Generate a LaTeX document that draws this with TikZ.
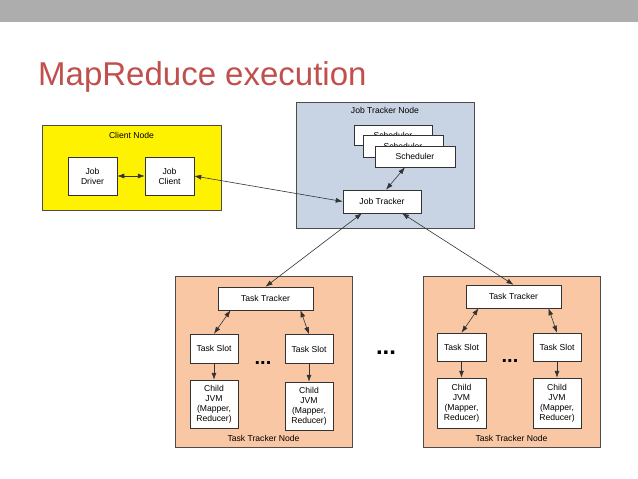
\documentclass[tikz,border=0pt]{standalone}
\usepackage{fontspec}
\setmainfont{Liberation Sans}
\usetikzlibrary{arrows.meta}
\definecolor{ttn}{HTML}{F9C7A3}
\definecolor{jtn}{HTML}{C8D4E3}
\definecolor{ttl}{HTML}{C0504D}
\begin{document}
\begin{tikzpicture}[x=1pt,y=-1pt,
  grp/.style={draw=black!70,line width=0.6pt},
  bx/.style={draw=black!80,fill=white,line width=0.5pt,font=\fontsize{8.6}{10}\selectfont,align=center,inner sep=0pt},
  lbl/.style={font=\fontsize{8.6}{10}\selectfont},
  ar/.style={-{Latex[length=7pt,width=5pt]},line width=0.6pt,draw=black!80},
  bar/.style={{Latex[length=7pt,width=5pt]}-{Latex[length=7pt,width=5pt]},line width=0.6pt,draw=black!80}]
\useasboundingbox (0,0) rectangle (638,479);
\fill[white] (0,0) rectangle (638,479);
\fill[black!32] (0,0) rectangle (638,22);
\node[anchor=base west,inner sep=0pt,text=ttl,font=\fontsize{33}{36}\selectfont] (title) at (38,85) {MapReduce execution};
% client node
\draw[grp,fill=yellow] (42,125) rectangle (221,210);
\node[lbl] (cnl) at (131.5,135) {Client Node};
\node[bx,minimum width=49pt,minimum height=38pt] (jd) at (92.5,176) {Job\\Driver};
\node[bx,minimum width=49pt,minimum height=38pt] (jc) at (169.5,176) {Job\\Client};
% job tracker node
\draw[grp,fill=jtn] (296,102) rectangle (474,228);
\node[lbl] (jtnl) at (385,110) {Job Tracker Node};
\node[bx,minimum width=78pt,minimum height=20pt] (s1) at (393,135) {Scheduler};
\node[bx,minimum width=80pt,minimum height=22pt] (s2) at (403,146) {Scheduler};
\node[bx,minimum width=80pt,minimum height=21pt] (s3) at (415,156.5) {Scheduler};
\node[bx,minimum width=78pt,minimum height=23pt] (jt) at (382,201.5) {Job Tracker};
% task tracker nodes
\draw[grp,fill=ttn] (175,276) rectangle (352,447);
\draw[grp,fill=ttn] (423,276) rectangle (600,447);
\node[lbl] (ttl1) at (263.5,438) {Task Tracker Node};
\node[lbl] (ttl2) at (511.5,438) {Task Tracker Node};
\node[bx,minimum width=95pt,minimum height=23pt] (tt1) at (265.5,298.5) {Task Tracker};
\node[bx,minimum width=95pt,minimum height=23pt] (tt2) at (513.5,296.5) {Task Tracker};
\node[bx,minimum width=48pt,minimum height=29pt] (a1) at (214,348.5) {Task Slot};
\node[bx,minimum width=48pt,minimum height=29pt] (b1) at (309,349) {Task Slot};
\node[bx,minimum width=48pt,minimum height=48pt] (a1j) at (214,404) {Child\\JVM\\(Mapper,\\Reducer)};
\node[bx,minimum width=48pt,minimum height=48pt] (b1j) at (309,406) {Child\\JVM\\(Mapper,\\Reducer)};
\node[bx,minimum width=49pt,minimum height=28pt] (a2) at (461.5,347) {Task Slot};
\node[bx,minimum width=48pt,minimum height=28pt] (b2) at (557,347) {Task Slot};
\node[bx,minimum width=49pt,minimum height=50pt] (a2j) at (461.5,403) {Child\\JVM\\(Mapper,\\Reducer)};
\node[bx,minimum width=48pt,minimum height=50pt] (b2j) at (557,403) {Child\\JVM\\(Mapper,\\Reducer)};
\node[font=\bfseries\fontsize{20}{20}\selectfont] (d1) at (263,363) {...};
\node[font=\bfseries\fontsize{20}{20}\selectfont] (d2) at (510,361) {...};
\node[font=\bfseries\fontsize{24}{24}\selectfont] (d3) at (386,353) {...};
% connectors
\draw[bar] (jd) -- (jc);
\draw[bar] (jc.east) -- (jt.west);
\draw[bar] (s3.south) ++(-10,0) coordinate (s3b) -- ([xshift=4pt]jt.north);
\draw[bar] ([xshift=-20pt]jt.south) -- (tt1.north);
\draw[bar] ([xshift=20pt]jt.south) -- (tt2.north);
\draw[bar] ([xshift=-35pt]tt1.south) -- (a1.north);
\draw[bar] ([xshift=35pt]tt1.south) -- (b1.north);
\draw[bar] ([xshift=-35pt]tt2.south) -- (a2.north);
\draw[bar] ([xshift=35pt]tt2.south) -- (b2.north);
\draw[ar] (a1) -- (a1j);
\draw[ar] (b1) -- (b1j);
\draw[ar] (a2) -- (a2j);
\draw[ar] (b2) -- (b2j);
\end{tikzpicture}
\end{document}
